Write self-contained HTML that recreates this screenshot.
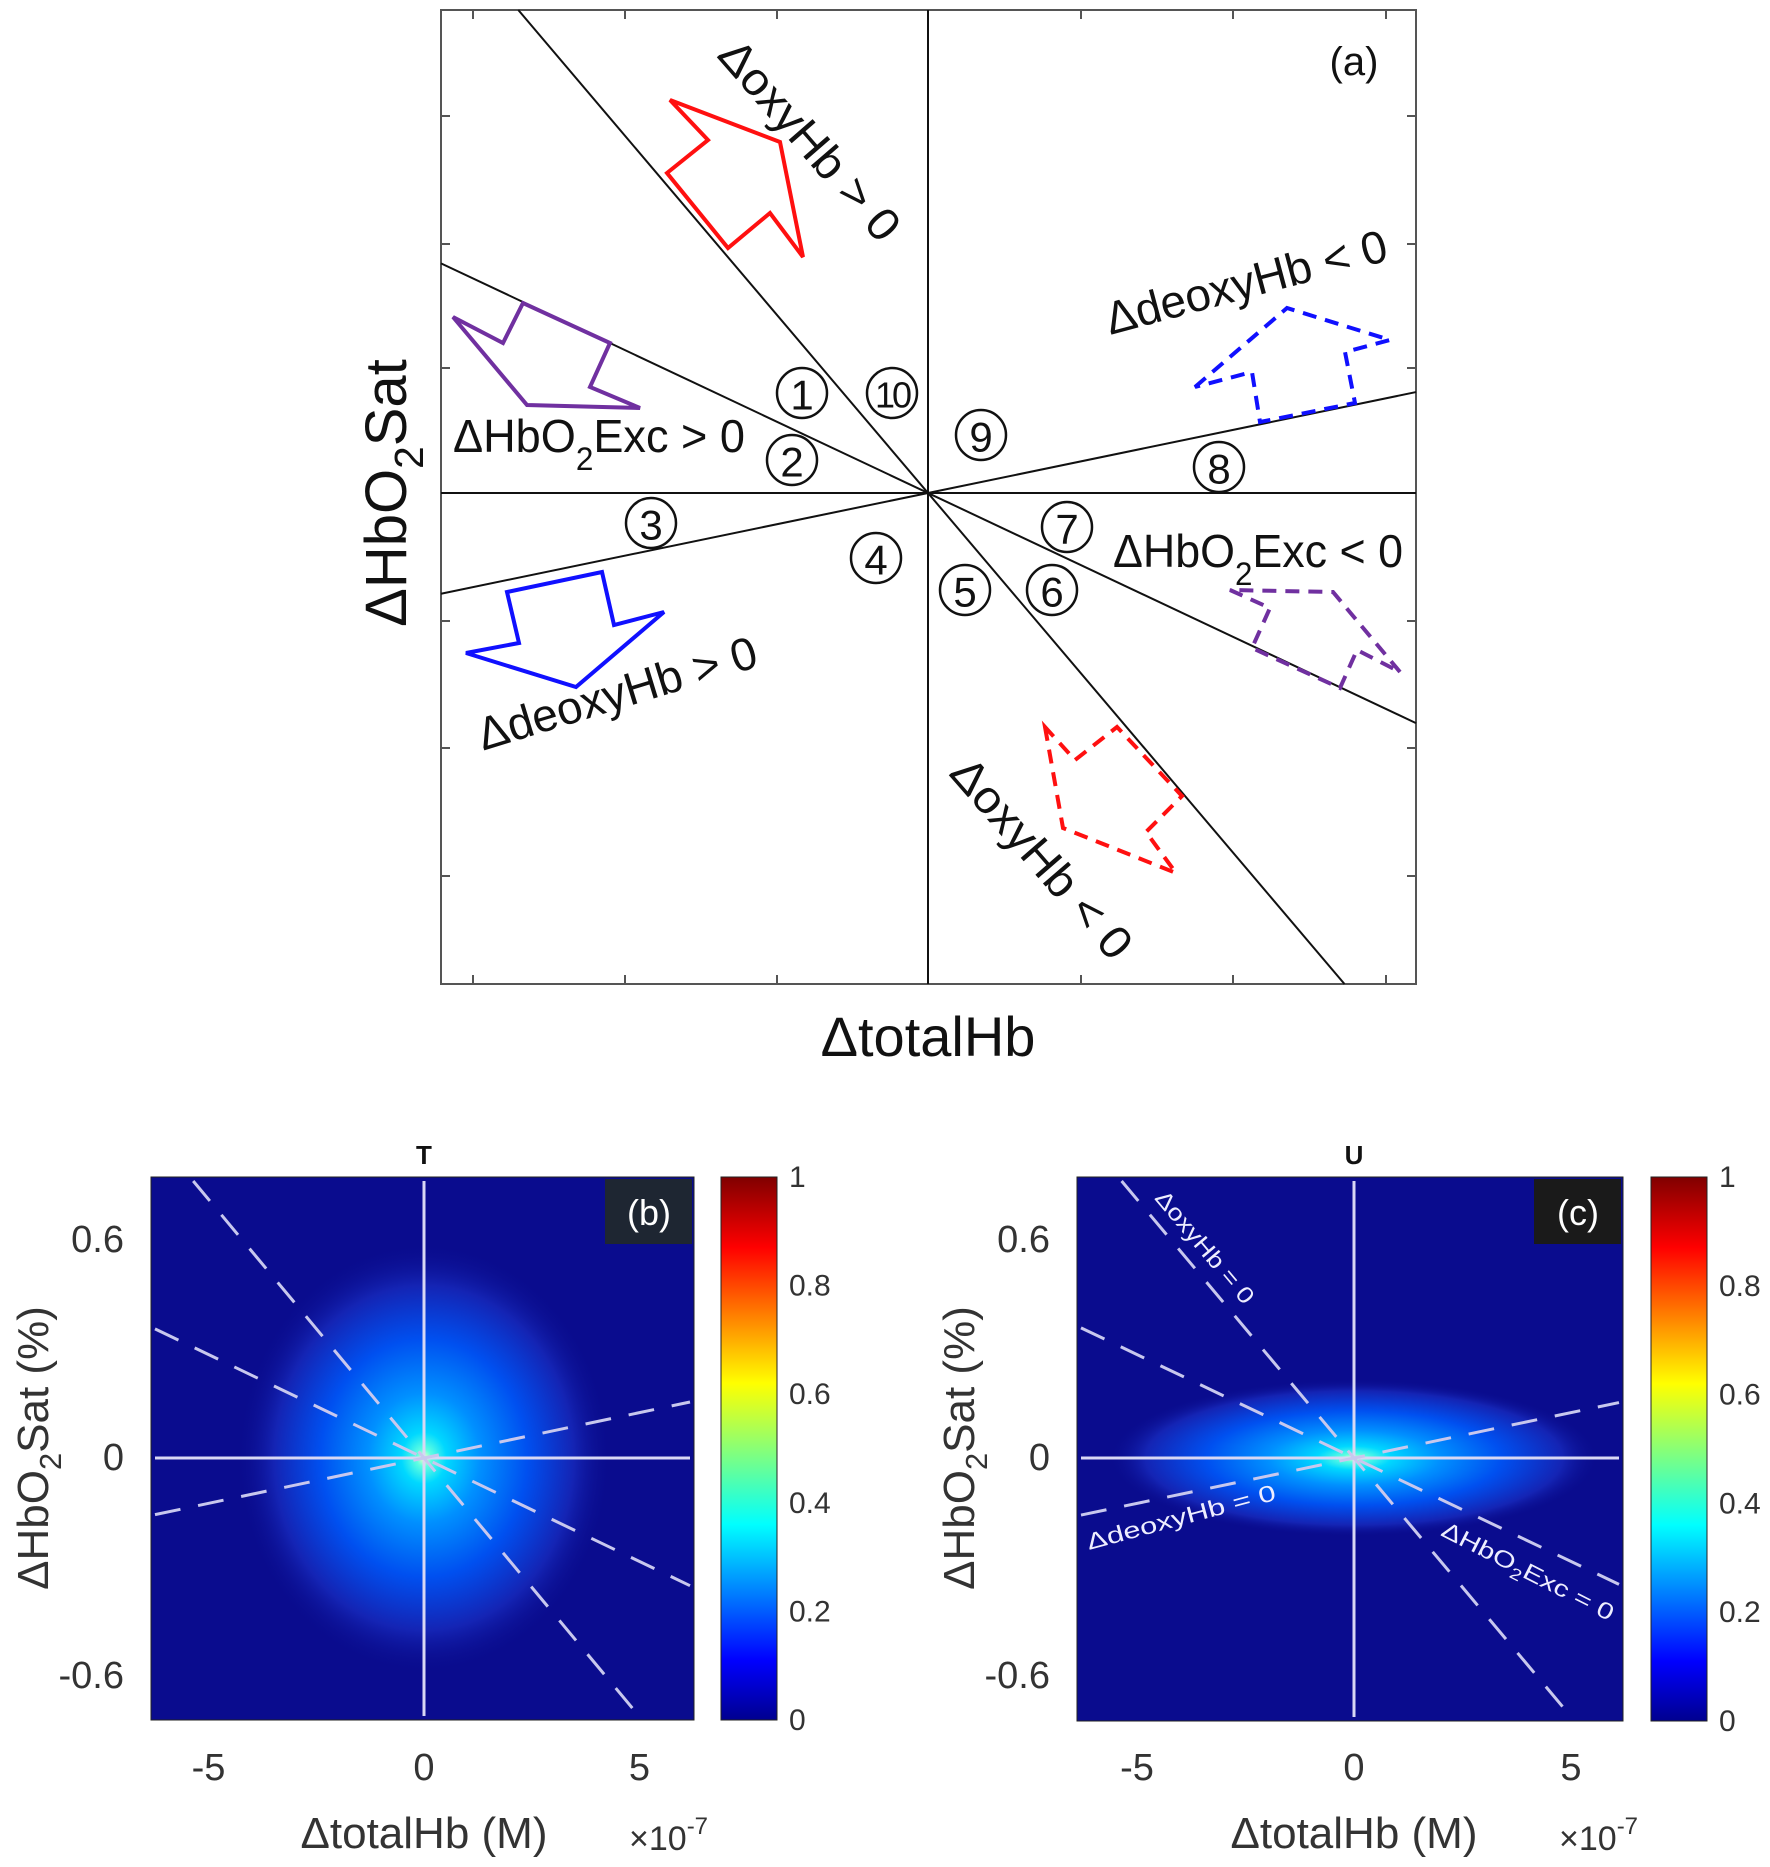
<!DOCTYPE html>
<html><head><meta charset="utf-8"><style>
html,body{margin:0;padding:0;background:#fff}
svg{display:block}
text{font-family:"Liberation Sans",sans-serif}
</style></head><body>
<svg id="fig" width="1770" height="1867" viewBox="0 0 1770 1867" xmlns="http://www.w3.org/2000/svg">
<defs>
<linearGradient id="jet" x1="0" y1="1" x2="0" y2="0">
<stop offset="0" stop-color="#00008f"/><stop offset="0.11" stop-color="#0000ff"/><stop offset="0.36" stop-color="#00ffff"/><stop offset="0.62" stop-color="#ffff00"/><stop offset="0.87" stop-color="#ff0000"/><stop offset="1" stop-color="#800000"/>
</linearGradient>
<radialGradient id="blobB"><stop offset="0" stop-color="#ffffc0"/><stop offset="0.04" stop-color="#60ffe0"/><stop offset="0.12" stop-color="#00d8ff"/><stop offset="0.3" stop-color="#0090ff"/><stop offset="0.55" stop-color="#0050f0"/><stop offset="0.8" stop-color="#1424b4"/><stop offset="1" stop-color="#0a0c8e" stop-opacity="0"/></radialGradient>
<radialGradient id="blobC"><stop offset="0" stop-color="#ffffc0"/><stop offset="0.05" stop-color="#60ffe0"/><stop offset="0.15" stop-color="#00d8ff"/><stop offset="0.35" stop-color="#0090ff"/><stop offset="0.6" stop-color="#0050f0"/><stop offset="0.85" stop-color="#1424b4"/><stop offset="1" stop-color="#0a0c8e" stop-opacity="0"/></radialGradient>
</defs>
<g id="pa"></g>
<g id="pb"></g>
<g id="pc"></g>
</svg>
<script>
// boundary line slopes (ΔHbO2Sat % per 1e-7 M ΔtotalHb)
const lineNames = ["oxyHb-zero", "hbo2exc-zero", "deoxyHb-zero"];
const lineSlopes = [-0.1425, -0.057, 0.025];
// panel b/c axis ticks
const xTicks = [-5, 0, 5];
const xTickLabels = ["-5", "0", "5"];
const yTicks = [0.6, 0, -0.6];
const yTickLabels = ["0.6", "0", "-0.6"];
const cbTicks = [0, 0.2, 0.4, 0.6, 0.8, 1];
const cbTickLabels = ["0", "0.2", "0.4", "0.6", "0.8", "1"];
// density spread (std-like extents in data units) per panel
const spreadX = [3.0, 3.9];
const spreadY = [0.41, 0.15];

const NS = "http://www.w3.org/2000/svg";
function mk(parent, tag, attrs, txt) {
  const e = document.createElementNS(NS, tag);
  for (const k in attrs) e.setAttribute(k, attrs[k]);
  if (txt !== undefined) e.textContent = txt;
  parent.appendChild(e);
  return e;
}

/* ---------- Panel a ---------- */
const pa = document.getElementById("pa");
const A = {l: 441, r: 1416, t: 10, b: 984, cx: 928, cy: 493, sx: 60.8, sy: 503};
let e = mk(pa, "rect", {x: A.l, y: A.t, width: A.r - A.l, height: A.b - A.t, fill: "#fff", stroke: "#555", "stroke-width": 2});


const aTx = [473, 625, 777, 1081, 1233, 1386];
const aTy = [116, 244, 368, 621, 748, 876];
aTx.forEach(x => {
  let t = mk(pa, "line", {x1: x, x2: x, y1: A.b, y2: A.b - 9, stroke: "#555", "stroke-width": 2});
  
  
  t = mk(pa, "line", {x1: x, x2: x, y1: A.t, y2: A.t + 9, stroke: "#555", "stroke-width": 2});
  
  
});
aTy.forEach(y => {
  let t = mk(pa, "line", {x1: A.l, x2: A.l + 9, y1: y, y2: y, stroke: "#555", "stroke-width": 2});
  
  
  t = mk(pa, "line", {x1: A.r, x2: A.r - 9, y1: y, y2: y, stroke: "#555", "stroke-width": 2});
  
  
});
e = mk(pa, "line", {x1: A.cx, x2: A.cx, y1: A.t, y2: A.b, stroke: "#111", "stroke-width": 2});


e = mk(pa, "line", {x1: A.l, x2: A.r, y1: A.cy, y2: A.cy, stroke: "#111", "stroke-width": 2});



function clipLine(cx, cy, ks, l, r, t, b) {
  let pts = [];
  const cand = [[l, cy + ks * (l - cx)], [r, cy + ks * (r - cx)]];
  if (ks !== 0) { cand.push([cx + (t - cy) / ks, t]); cand.push([cx + (b - cy) / ks, b]); }
  cand.forEach(p => { if (p[0] >= l - 0.01 && p[0] <= r + 0.01 && p[1] >= t - 0.01 && p[1] <= b + 0.01) pts.push(p); });
  pts.sort((a, c) => a[0] - c[0]);
  return [pts[0], pts[pts.length - 1]];
}
lineSlopes.forEach((m, i) => {
  const ks = -m * A.sy / A.sx;
  const [p, q] = clipLine(A.cx, A.cy, ks, A.l, A.r, A.t, A.b);
  const ln = mk(pa, "line", {x1: p[0], y1: p[1], x2: q[0], y2: q[1], stroke: "#111", "stroke-width": 2});
  
  
});

const arrows = [
  ["oxyHb-increase-arrow", "#ff1010", "", "670,100 780,142 803,257 770,213 728,248 667,173 708,140"],
  ["hbo2exc-increase-arrow", "#7030a0", "", "453,317 527,405 640,408 590,387 610,343 523,303 503,343"],
  ["deoxyHb-increase-arrow", "#1010ff", "", "466,653 576,687 664,612 614,625 602,572 507,592 519,643"],
  ["deoxyHb-decrease-arrow", "#1010ff", "14,9", "1195,387 1287,308 1390,340 1345,352 1355,403 1260,422 1252,372"],
  ["hbo2exc-decrease-arrow", "#7030a0", "14,9", "1400,672 1333,592 1230,590 1270,608 1252,648 1340,688 1357,650"],
  ["oxyHb-decrease-arrow", "#ff1010", "14,9", "1045,727 1063,828 1176,873 1146,832 1182,796 1117,727 1075,760"]
];
arrows.forEach(a => {
  const p = mk(pa, "polygon", {points: a[3], fill: "none", stroke: a[1], "stroke-width": 4, "stroke-dasharray": a[2] || "none", "stroke-linejoin": "miter"});
  
  
});

function label(parent, name, x, y, rot, size, parts, opts) {
  opts = opts || {};
  const t = mk(parent, "text", {x: x, y: y, "font-size": size, fill: opts.fill || "#111", "text-anchor": opts.anchor || "middle", "dominant-baseline": opts.db || "central", transform: rot ? `rotate(${rot} ${x} ${y})` : "", "font-family": opts.font || '"Liberation Sans", sans-serif'});
  if (opts.len) t.setAttribute("textLength", opts.len);
  if (opts.len) t.setAttribute("lengthAdjust", "spacingAndGlyphs");
  
  
  parts.forEach(pt => {
    if (typeof pt === "string") mk(t, "tspan", {}, pt);
    else mk(t, "tspan", {"baseline-shift": "sub", "font-size": size * 0.7}, pt.sub);
  });
  return t;
}
label(pa, "oxyHb-positive-label", 810, 140, 49, 46, ["ΔoxyHb > 0"], {len: 250});
label(pa, "oxyHb-negative-label", 1042, 858, 49, 46, ["ΔoxyHb < 0"], {len: 250});
label(pa, "deoxyHb-negative-label", 1246, 282, -15, 46, ["ΔdeoxyHb < 0"], {len: 290});
label(pa, "deoxyHb-positive-label", 617, 693, -17, 46, ["ΔdeoxyHb > 0"], {len: 290});
label(pa, "hbo2exc-positive-label", 453, 452, 0, 46, ["ΔHbO", {sub: "2"}, "Exc > 0"], {anchor: "start", db: "auto", len: 292});
label(pa, "hbo2exc-negative-label", 1113, 567, 0, 46, ["ΔHbO", {sub: "2"}, "Exc < 0"], {anchor: "start", db: "auto", len: 290});
label(pa, "panel-a-tag", 1354, 62, 0, 40, ["(a)"], {font: '"Liberation Serif", serif'});
label(pa, "x-axis-title", 928, 1036, 0, 56, ["ΔtotalHb"]);
label(pa, "y-axis-title", 386, 493, -90, 58, ["ΔHbO", {sub: "2"}, "Sat"]);

const regionNums = ["1","2","3","4","5","6","7","8","9","10"];
const regionX = [802, 792, 651, 876, 965, 1052, 1067, 1219, 981, 892];
const regionY = [393, 460, 523, 558, 590, 590, 527, 467, 435, 393];
regionNums.forEach((n, i) => {
  const g = mk(pa, "g", {});
  
  
  mk(g, "circle", {cx: regionX[i], cy: regionY[i], r: 25, fill: "none", stroke: "#111", "stroke-width": 2.5});
  mk(g, "text", {x: regionX[i], y: regionY[i] + 2, "font-size": n.length > 1 ? 36 : 42, "text-anchor": "middle", "dominant-baseline": "central", fill: "#111", "letter-spacing": n.length > 1 ? -3 : 0}, n);
});

/* ---------- Panels b & c ---------- */
function heatPanel(gid, idx, P, title, tag, annotate) {
  const g = document.getElementById(gid);
  const X = v => P.cx + v * P.sx;
  const Y = v => P.cy - v * P.sy;
  let r = mk(g, "rect", {x: P.l, y: P.t, width: P.r - P.l, height: P.b - P.t, fill: "#0a0c8e", stroke: "#222", "stroke-width": 1});
  
  
  const cp = mk(g, "clipPath", {id: "clip" + gid});
  mk(cp, "rect", {x: P.l, y: P.t, width: P.r - P.l, height: P.b - P.t});
  const blob = mk(g, "ellipse", {cx: X(0), cy: Y(0), rx: spreadX[idx] * P.sx * 1.45, ry: spreadY[idx] * P.sy * 1.45, fill: idx === 0 ? "url(#blobB)" : "url(#blobC)", "clip-path": `url(#clip${gid})`});
  
  
  let l = mk(g, "line", {x1: X(0), x2: X(0), y1: P.t + 4, y2: P.b - 4, stroke: "#d8d8f4", "stroke-width": 3});
  
  
  l = mk(g, "line", {x1: P.l + 4, x2: P.r - 4, y1: Y(0), y2: Y(0), stroke: "#d8d8f4", "stroke-width": 3});
  
  
  lineSlopes.forEach((m, i) => {
    const ks = -m * P.sy / P.sx;
    const [p, q] = clipLine(P.cx, P.cy, ks, P.l + 4, P.r - 4, P.t + 4, P.b - 4);
    const d = mk(g, "line", {x1: p[0], y1: p[1], x2: q[0], y2: q[1], stroke: "#c8c8ee", "stroke-width": 3, "stroke-dasharray": "26,18"});
    
    
  });
  const tb = mk(g, "rect", {x: P.r - 89, y: P.t + 2, width: 87, height: 65, fill: idx === 0 ? "#1e2632" : "#1a1a1a"});
  
  
  label(g, "panel-tag", P.r - 45, P.t + 35, 0, 36, [tag], {fill: "#fff", font: '"Liberation Serif", serif'});
  const tt = label(g, "panel-title", X(0), P.t - 22, 0, 26, [title]);
  tt.setAttribute("font-weight", "bold");
  xTicks.forEach((v, i) => label(g, "x-tick-label", X(v), 1768, 0, 38, [xTickLabels[i]], {fill: "#333"}));
  yTicks.forEach((v, i) => label(g, "y-tick-label", P.l - 27, Y(v), 0, 38, [yTickLabels[i]], {fill: "#333", anchor: "end"}));
  label(g, "x-axis-title", X(0), 1833, 0, 44, ["ΔtotalHb (M)"], {fill: "#333"});
  const ex = mk(g, "text", {x: X(0) + 205, y: 1850, "font-size": 34, fill: "#333"});
  
  
  mk(ex, "tspan", {}, "×10");
  mk(ex, "tspan", {"font-size": 24, dy: -16}, "-7");
  label(g, "y-axis-title", P.l - 118, P.cy - 10, -90, 44, ["ΔHbO", {sub: "2"}, "Sat (%)"], {fill: "#333"});
  const cb = mk(g, "rect", {x: P.cbx, y: P.t, width: 56, height: P.b - P.t, fill: "url(#jet)", stroke: "#222", "stroke-width": 1});
  
  
  cbTicks.forEach((v, i) => {
    const y = P.b - v * (P.b - P.t);
    label(g, "colorbar-tick-label", P.cbx + 68, y, 0, 30, [cbTickLabels[i]], {fill: "#333", anchor: "start"});
  });
  if (annotate) {
    label(g, "oxyHb-zero-label", 1205, 1247, 50, 23, ["ΔoxyHb = 0"], {fill: "#eef", len: 140});
    label(g, "deoxyHb-zero-label", 1181, 1517, -15, 23, ["ΔdeoxyHb = 0"], {fill: "#eef", len: 195});
    label(g, "hbo2exc-zero-label", 1528, 1571, 27, 23, ["ΔHbO", {sub: "2"}, "Exc = 0"], {fill: "#eef", len: 190});
  }
}
heatPanel("pb", 0, {l: 151, r: 694, t: 1177, b: 1720, cx: 424, cy: 1458, sx: 43.1, sy: 363, cbx: 721}, "T", "(b)", false);
heatPanel("pc", 1, {l: 1077, r: 1623, t: 1177, b: 1721, cx: 1354, cy: 1458, sx: 43.4, sy: 363, cbx: 1651}, "U", "(c)", true);
</script>
</body></html>
